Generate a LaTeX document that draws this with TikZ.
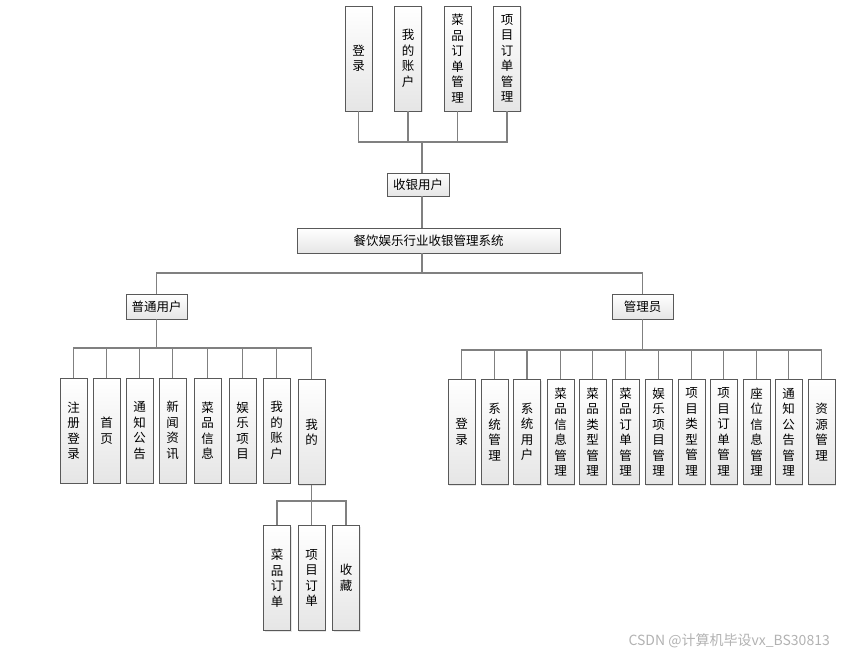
\documentclass[tikz,border=0pt]{standalone}
\usepackage{fontspec}
\setmainfont{Noto Sans CJK SC}
\usetikzlibrary{shadows}
\begin{document}
\begin{tikzpicture}[x=1pt, y=-1pt, font=\fontsize{12.5}{15.5}\selectfont,
	box/.style={draw=black!65, line width=0.9pt, top color=white, bottom color=black!10, inner sep=0pt,
		drop shadow={shadow xshift=1.2pt, shadow yshift=-1.2pt, opacity=0.2}},
	hbox/.style={box, minimum height=24},
	vbox/.style={box, minimum width=27, minimum height=105, align=center},
	conn/.style={draw=black!50, line width=1.6pt}]
	\useasboundingbox (0,0) rectangle (848,656);
	% top row
	\node[vbox] (t1) at (358.5,58.5) {登\\录};
	\node[vbox] (t2) at (408,58.5) {我\\的\\账\\户};
	\node[vbox] (t3) at (457.5,58.5) {菜\\品\\订\\单\\管\\理};
	\node[vbox] (t4) at (507,58.5) {项\\目\\订\\单\\管\\理};
	\node[hbox, minimum width=62, minimum height=23] (cashier) at (418,184.5) {收银用户};
	\node[hbox, minimum width=263, minimum height=25] (sys) at (428.5,240.5) {餐饮娱乐行业收银管理系统};
	\node[hbox, minimum width=61, minimum height=25] (user) at (156.5,306.5) {普通用户};
	\node[hbox, minimum width=61, minimum height=25] (admin) at (642.5,306.5) {管理员};
	% 普通用户
	\node[vbox] (l1) at (73.5,430.5) {注\\册\\登\\录};
	\node[vbox] (l2) at (106.5,430.5) {首\\页};
	\node[vbox] (l3) at (139.5,430.5) {通\\知\\公\\告};
	\node[vbox] (l4) at (172.5,430.5) {新\\闻\\资\\讯};
	\node[vbox] (l5) at (207.5,430.5) {菜\\品\\信\\息};
	\node[vbox] (l6) at (242.5,430.5) {娱\\乐\\项\\目};
	\node[vbox] (l7) at (276.5,430.5) {我\\的\\账\\户};
	\node[vbox] (l8) at (311.5,432) {我\\的};
	\node[vbox] (b1) at (277,578) {菜\\品\\订\\单};
	\node[vbox] (b2) at (311.5,578) {项\\目\\订\\单};
	\node[vbox] (b3) at (346,578) {收\\藏};
	% 管理员
	\node[vbox] (r1) at (461.5,432) {登\\录};
	\node[vbox] (r2) at (494.5,432) {系\\统\\管\\理};
	\node[vbox] (r3) at (527,432) {系\\统\\用\\户};
	\node[vbox] (r4) at (560.5,432) {菜\\品\\信\\息\\管\\理};
	\node[vbox] (r5) at (592.5,432) {菜\\品\\类\\型\\管\\理};
	\node[vbox] (r6) at (625.5,432) {菜\\品\\订\\单\\管\\理};
	\node[vbox] (r7) at (658.5,432) {娱\\乐\\项\\目\\管\\理};
	\node[vbox] (r8) at (691.5,432) {项\\目\\类\\型\\管\\理};
	\node[vbox] (r9) at (723.5,432) {项\\目\\订\\单\\管\\理};
	\node[vbox] (r10) at (756.5,432) {座\\位\\信\\息\\管\\理};
	\node[vbox] (r11) at (788.5,432) {通\\知\\公\\告\\管\\理};
	\node[vbox] (r12) at (821.5,432) {资\\源\\管\\理};
	% connectors
	\coordinate (spine) at (422,0);
	\coordinate (topbus) at (0,142);
	\coordinate (midbus) at (0,273);
	\coordinate (leftbus) at (0,348);
	\coordinate (rightbus) at (0,350);
	\coordinate (botbus) at (0,501);
	\draw[conn] (t1.south) |- (t4.south |- topbus) -- (t4.south);
	\foreach \n in {t2,t3} \draw[conn] (\n.south) -- (\n.south |- topbus);
	\draw[conn] (spine |- topbus) -- (cashier.north -| spine);
	\draw[conn] (cashier.south -| spine) -- (sys.north -| spine);
	\draw[conn] (sys.south -| spine) -- (spine |- midbus);
	\draw[conn] (user.north) |- (admin.north |- midbus) -- (admin.north);
	\draw[conn] (user.south) -- (user.south |- leftbus);
	\draw[conn] (l1.north) |- (l8.north |- leftbus) -- (l8.north);
	\foreach \n in {l2,l3,l4,l5,l6,l7} \draw[conn] (\n.north) -- (\n.north |- leftbus);
	\draw[conn] (admin.south) -- (admin.south |- rightbus);
	\draw[conn] (r1.north) |- (r12.north |- rightbus) -- (r12.north);
	\foreach \n in {r2,r3,r4,r5,r6,r7,r8,r9,r10,r11} \draw[conn] (\n.north) -- (\n.north |- rightbus);
	\draw[conn] (l8.south) -- (l8.south |- botbus);
	\draw[conn] (b1.north) |- (b3.north |- botbus) -- (b3.north);
	\draw[conn] (b2.north) -- (b2.north |- botbus);
	% watermark
	\node[text=black!30, font=\fontsize{14}{16}\selectfont, anchor=east, inner sep=0pt] (mark) at (830,641) {CSDN @计算机毕设vx\_BS30813};
\end{tikzpicture}
\end{document}
